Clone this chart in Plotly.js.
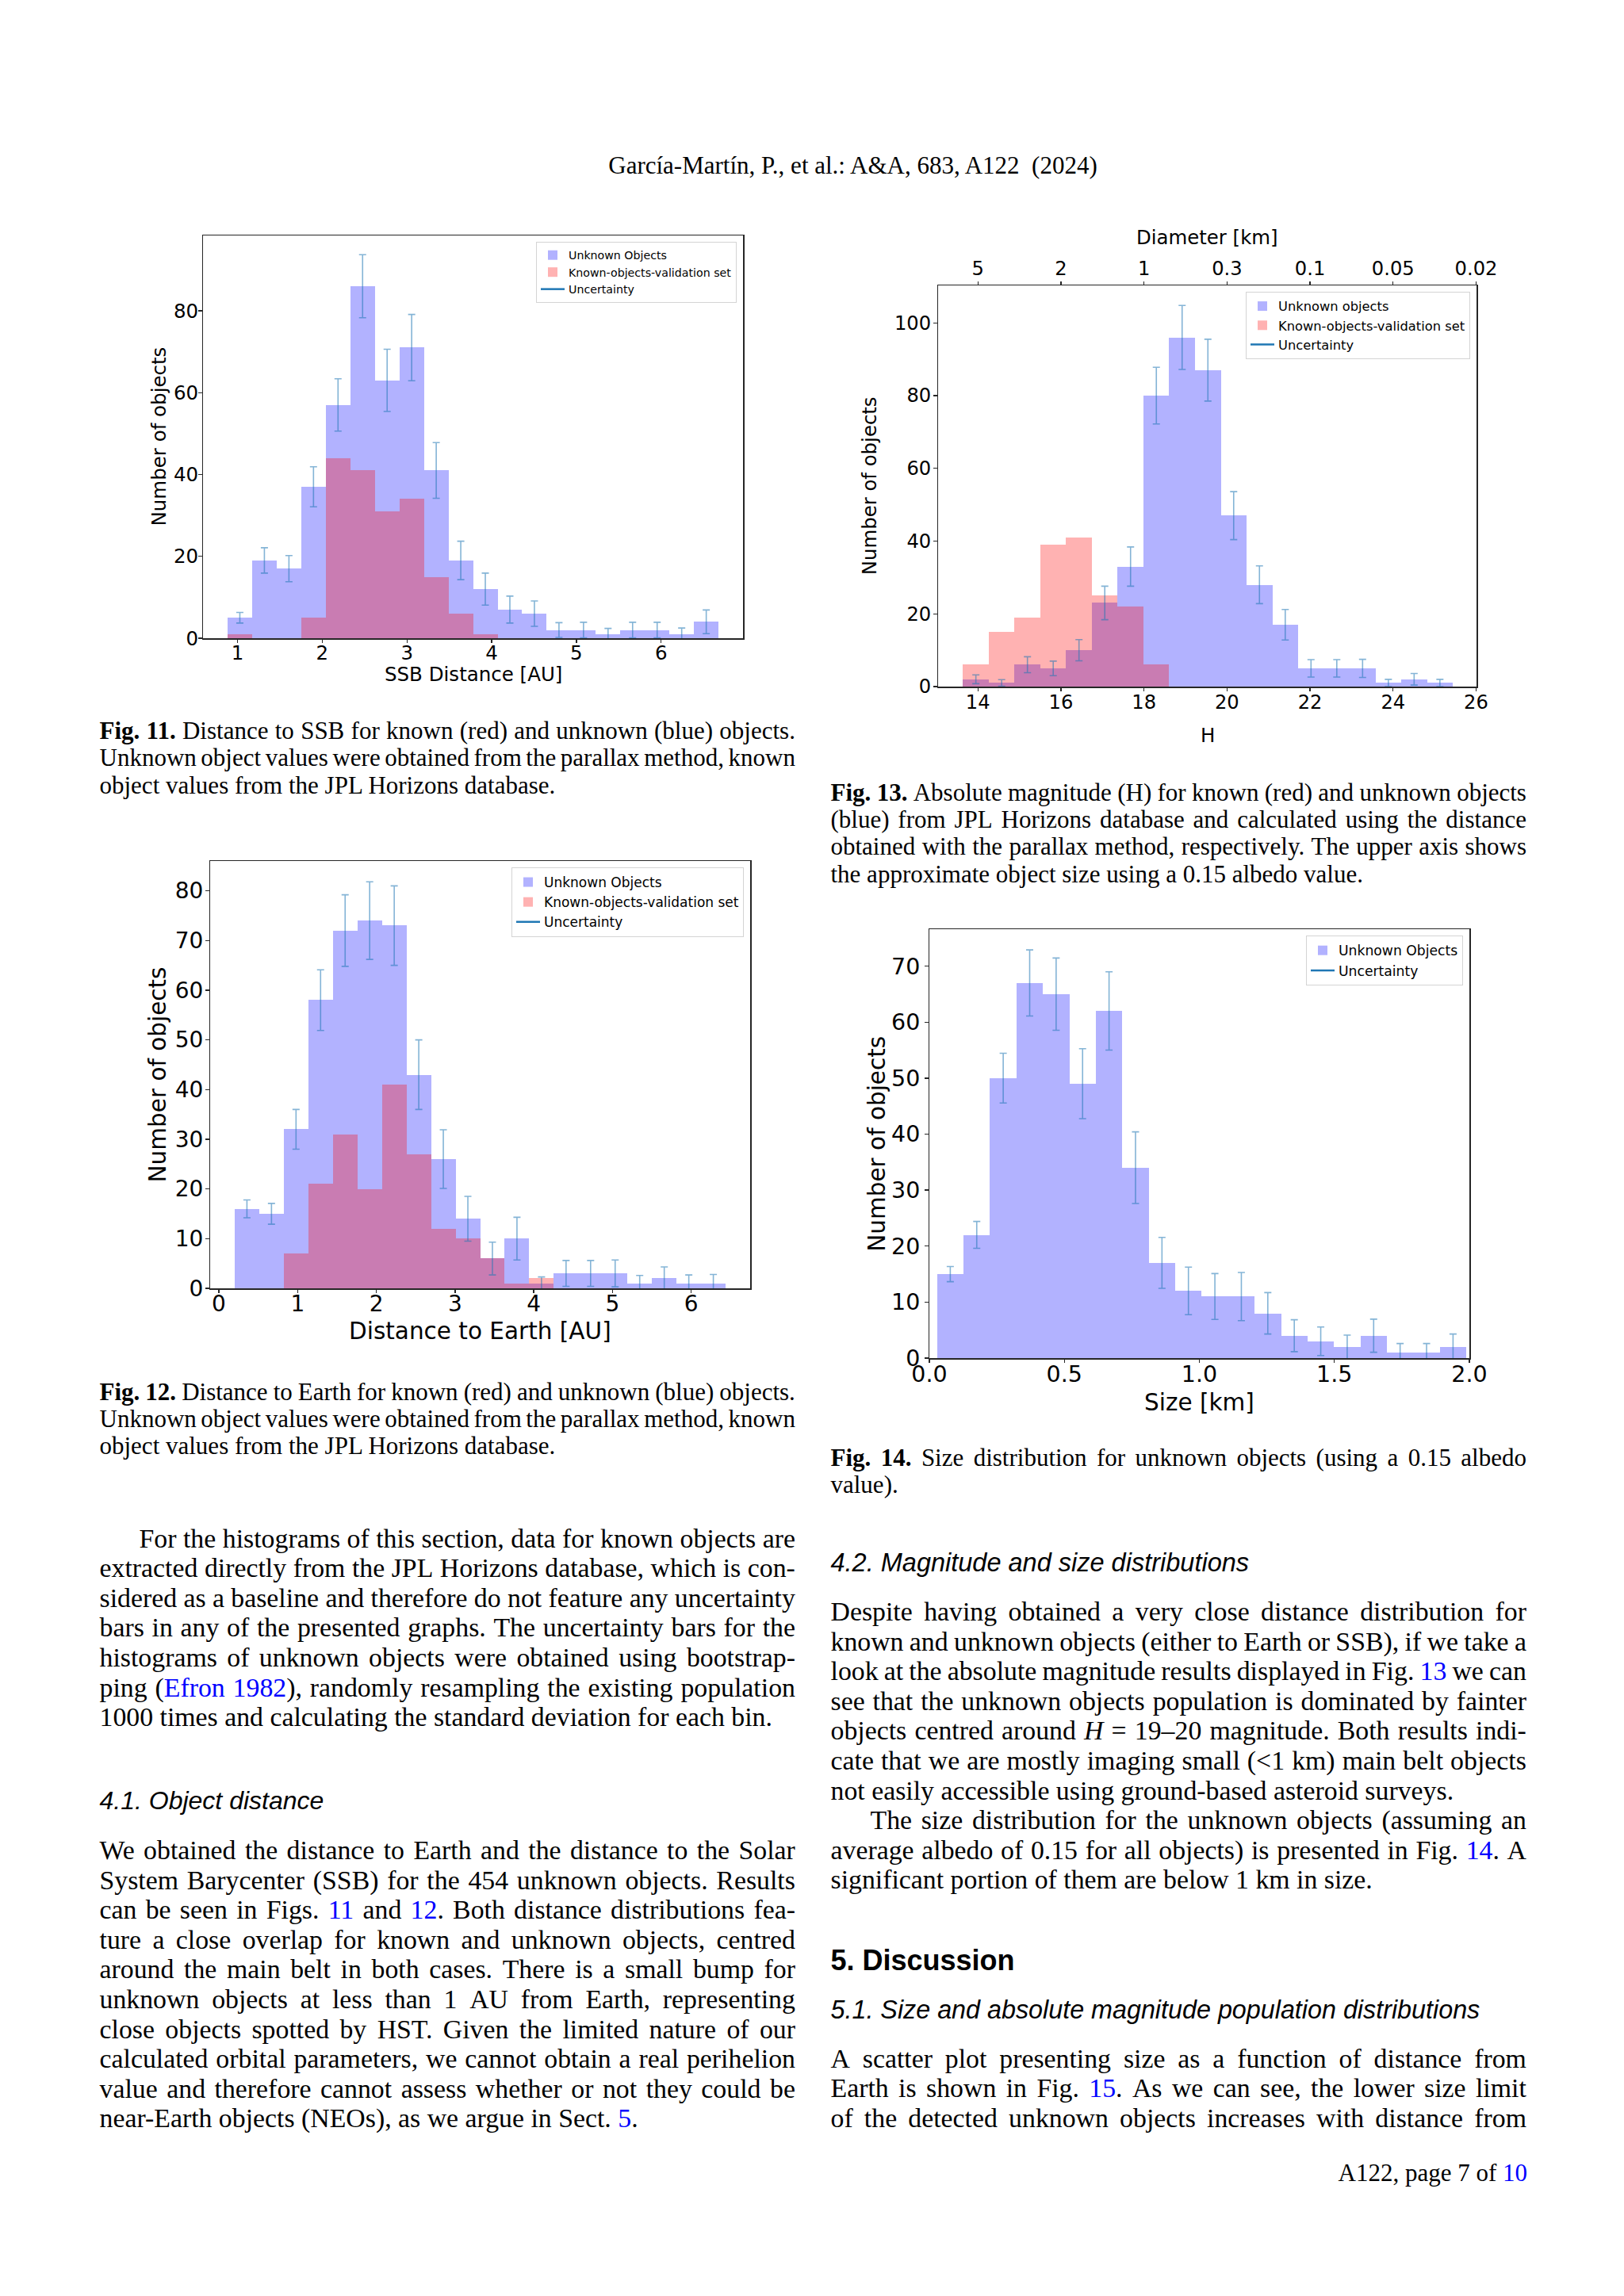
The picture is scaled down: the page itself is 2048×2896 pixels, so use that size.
<!DOCTYPE html>
<html><head><meta charset="utf-8">
<script src="https://cdn.plot.ly/plotly-3.0.1.min.js"></script>
<style>
body{margin:0;background:#fff;}
#page{position:relative;width:2048px;height:2896px;background:#fff;overflow:hidden;font-family:"Liberation Serif","Times New Roman",serif;color:#000;}
.ln{position:absolute;white-space:nowrap;box-sizing:border-box;}
a{color:#0000ff;text-decoration:none;}
.chart{position:absolute;}
</style></head>
<body><div id="page"></div>
<script>
// ---------------- DATA ----------------
// Fig. 11 : distance to SSB (20 bins)
const ssbBinStart = 0.883, ssbBinWidth = 0.2897;
const ssbUnknown = [5,19,17,37,57,86,63,71,41,19,12,7,6,2,2,1,2,2,1,4];
const ssbKnown   = [1,0,0,5,44,41,31,34,15,6,1,0,0,0,0,0,0,0,0,0];
const ssbErr     = [1.3,3.1,3.2,4.9,6.4,7.7,7.6,8.1,6.8,4.7,3.9,3.3,3.1,1.8,1.9,1.4,1.9,1.9,1.5,2.9];
// Fig. 12 : distance to Earth (20 bins)
const earthBinStart = 0.2005, earthBinWidth = 0.3118;
const earthUnknown = [16,15,32,58,72,74,73,43,26,14,6,10,1,3,3,3,1,2,1,1];
const earthKnown   = [0,0,7,21,31,20,41,27,12,10,6,1,2,0,0,0,0,0,0,0];
const earthErr     = [1.8,2.1,4.0,6.1,7.2,7.8,8.0,7.0,5.9,4.5,3.3,4.3,1.3,2.6,2.6,2.7,1.6,2.3,1.7,1.8];
// Fig. 13 : absolute magnitude H (19 bins)
const hBinStart = 13.64, hBinWidth = 0.621;
const hUnknown = [2,1,6,5,10,23,33,80,96,87,47,28,17,5,5,5,1,2,1];
const hKnown   = [6,15,19,39,41,25,22,6,0,0,0,0,0,0,0,0,0,0,0];
const hErr     = [1.2,0.9,2.2,2.0,2.9,4.6,5.4,7.8,8.8,8.5,6.6,5.2,4.2,2.4,2.4,2.5,1.0,1.6,1.0];
const diamTickH = [14,16,18,20,22,24,26];
const diamTickLabels = ['5','2','1','0.3','0.1','0.05','0.02'];
// Fig. 14 : size (20 bins)
const sizeBinStart = 0.0285, sizeBinWidth = 0.098;
const sizeUnknown = [15,22,50,67,65,49,62,34,17,12,11,11,8,4,3,2,4,1,1,2];
const sizeErr     = [1.35,2.4,4.45,5.9,6.45,6.25,7.0,6.4,4.55,4.25,4.1,4.3,3.7,2.85,2.55,2.1,2.95,1.6,1.6,2.3];

// ---------------- TEXT ----------------
const headerText = 'García-Martín, P., et al.: A&amp;A, 683, A122&nbsp; (2024)';
const cap11 = ['=<b>Fig.</b> <b>11.</b> Distance to SSB for known (red) and unknown (blue) objects.',
  '=Unknown object values were obtained from the parallax method, known',
  '-object values from the JPL Horizons database.'];
const cap12 = ['=<b>Fig.</b> <b>12.</b> Distance to Earth for known (red) and unknown (blue) objects.',
  '=Unknown object values were obtained from the parallax method, known',
  '-object values from the JPL Horizons database.'];
const cap13 = ['=<b>Fig.</b> <b>13.</b> Absolute magnitude (H) for known (red) and unknown objects',
  '=(blue) from JPL Horizons database and calculated using the distance',
  '=obtained with the parallax method, respectively. The upper axis shows',
  '-the approximate object size using a 0.15 albedo value.'];
const cap14 = ['=<b>Fig.</b> <b>14.</b> Size distribution for unknown objects (using a 0.15 albedo',
  '-value).'];
const paraLeft1 = ['>For the histograms of this section, data for known objects are',
  '=extracted directly from the JPL Horizons database, which is con-',
  '=sidered as a baseline and therefore do not feature any uncertainty',
  '=bars in any of the presented graphs. The uncertainty bars for the',
  '=histograms of unknown objects were obtained using bootstrap-',
  '=ping (<a>Efron</a> <a>1982</a>), randomly resampling the existing population',
  '-1000 times and calculating the standard deviation for each bin.'];
const paraLeft2 = ['=We obtained the distance to Earth and the distance to the Solar',
  '=System Barycenter (SSB) for the 454 unknown objects. Results',
  '=can be seen in Figs. <a>11</a> and <a>12</a>. Both distance distributions fea-',
  '=ture a close overlap for known and unknown objects, centred',
  '=around the main belt in both cases. There is a small bump for',
  '=unknown objects at less than 1 AU from Earth, representing',
  '=close objects spotted by HST. Given the limited nature of our',
  '=calculated orbital parameters, we cannot obtain a real perihelion',
  '=value and therefore cannot assess whether or not they could be',
  '-near-Earth objects (NEOs), as we argue in Sect. <a>5</a>.'];
const paraRight1 = ['=Despite having obtained a very close distance distribution for',
  '=known and unknown objects (either to Earth or SSB), if we take a',
  '=look at the absolute magnitude results displayed in Fig. <a>13</a> we can',
  '=see that the unknown objects population is dominated by fainter',
  '=objects centred around <i>H</i> = 19–20 magnitude. Both results indi-',
  '=cate that we are mostly imaging small (&lt;1 km) main belt objects',
  '-not easily accessible using ground-based asteroid surveys.',
  '>The size distribution for the unknown objects (assuming an',
  '=average albedo of 0.15 for all objects) is presented in Fig. <a>14</a>. A',
  '-significant portion of them are below 1 km in size.'];
const paraRight2 = ['=A scatter plot presenting size as a function of distance from',
  '=Earth is shown in Fig. <a>15</a>. As we can see, the lower size limit',
  '=of the detected unknown objects increases with distance from'];

const page = document.getElementById('page');
const SANS = '"Liberation Sans",Arial,sans-serif';

function single(html, left, top, size, extra){
  const d = document.createElement('div');
  d.className = 'ln';
  d.style.left = left+'px'; d.style.top = top+'px'; d.style.fontSize = size+'px';
  d.style.lineHeight = '1.2';
  if (extra) Object.assign(d.style, extra);
  d.innerHTML = html;
  page.appendChild(d);
  return d;
}
function block(lines, x, top, w, lh, size){
  lines.forEach((s,i)=>{
    const kind = s[0], t = s.slice(1);
    const d = document.createElement('div');
    d.className = 'ln';
    d.style.left = x+'px'; d.style.top = (top+i*lh)+'px'; d.style.width = w+'px';
    d.style.height = lh+'px'; d.style.lineHeight = lh+'px'; d.style.fontSize = size+'px';
    d.style.paddingLeft = (kind==='>' ? 50 : 0)+'px';
    if (kind==='-') { d.innerHTML = t; }
    else {
      d.style.display = 'flex'; d.style.justifyContent = 'space-between'; d.style.columnGap = '0.12em';
      t.split(' ').forEach(wd=>{ const sp=document.createElement('span'); sp.innerHTML=wd; d.appendChild(sp); });
    }
    page.appendChild(d);
  });
}

// header + footer
single(headerText, 0, 190, 31, {width:'2151px', textAlign:'center'});
single('A122, page 7 of <a>10</a>', 0, 2722, 31, {width:'1926px', textAlign:'right'});
// captions
const LX = 125.5, LW = 877.5, RX = 1047.5, RW = 877.5;
block(cap11, LX, 905, LW, 34.3, 31);
block(cap12, LX, 1738.5, LW, 34.3, 31);
block(cap13, RX, 982.7, RW, 34.3, 31);
block(cap14, RX, 1821.7, RW, 34.6, 31);
// body
block(paraLeft1, LX, 1921.5, LW, 37.6, 33.8);
single('4.1. Object distance', LX, 2252, 32, {fontFamily:SANS, fontStyle:'italic'});
block(paraLeft2, LX, 2315, LW, 37.6, 33.8);
single('4.2. Magnitude and size distributions', RX, 1952.3, 32.5, {fontFamily:SANS, fontStyle:'italic'});
block(paraRight1, RX, 2014, RW, 37.6, 33.8);
single('5. Discussion', RX, 2451, 36, {fontFamily:SANS, fontWeight:'bold'});
single('5.1. Size and absolute magnitude population distributions', RX, 2516, 32.3, {fontFamily:SANS, fontStyle:'italic'});
block(paraRight2, RX, 2577.6, RW, 37.6, 33.8);

// ---------------- CHARTS ----------------
const BLUE = 'rgba(0,0,255,0.3)', RED = 'rgba(255,0,0,0.3)', ERR = 'rgba(31,119,180,0.55)';
function barTrace(start, width, y, color, name){
  return {type:'bar', x0:start+width/2, dx:width, width:width, y:y, name:name,
    marker:{color:color, line:{width:0}}, hoverinfo:'skip'};
}
function errTrace(start, width, y, err){
  return {type:'scatter', mode:'markers', x0:start+width/2, dx:width, y:y, showlegend:false,
    marker:{size:1, color:'rgba(0,0,0,0)'}, hoverinfo:'skip',
    error_y:{type:'data', array:err, visible:true, color:ERR, thickness:1.6, width:4.5}};
}
function legendLine(xaxis){
  const t = {type:'scatter', mode:'lines', x:[null], y:[null], name:'Uncertainty',
    line:{color:'#1f77b4', width:2.5}, hoverinfo:'skip'};
  if (xaxis) t.xaxis = xaxis;
  return t;
}
function axis(range, dtick, fs, lblOff, extra){
  return Object.assign({range:range, dtick:dtick, showline:true, linecolor:'#262626', linewidth:1.5, mirror:true,
    ticks:'outside', ticklen:4.5, tickwidth:1.4, tickcolor:'#262626', showgrid:false, zeroline:false,
    tickfont:{size:fs, color:'#000'}, automargin:false, ticklabelstandoff:lblOff}, extra||{});
}
function yTitle(text, fs, dx){
  return {text:text, xref:'paper', yref:'paper', x:0, y:0.5, xanchor:'center', yanchor:'middle',
    xshift:-dx, textangle:-90, showarrow:false, font:{size:fs, color:'#000'}};
}
function xTitle(text, fs, dy){
  return {text:text, xref:'paper', yref:'paper', x:0.5, y:0, xanchor:'center', yanchor:'middle',
    yshift:-dy, showarrow:false, font:{size:fs, color:'#000'}};
}
function makeChart(id, box, m, data, layout, legendFs){
  const d = document.createElement('div');
  d.className = 'chart'; d.id = id;
  const w = box.R-box.L+m.l+m.r, h = box.B-box.T+m.t+m.b;
  d.style.left = (box.L-m.l)+'px'; d.style.top = (box.T-m.t)+'px';
  d.style.width = w+'px'; d.style.height = h+'px';
  page.appendChild(d);
  const pw = box.R-box.L, ph = box.B-box.T;
  const base = {width:w, height:h, margin:m, paper_bgcolor:'rgba(0,0,0,0)', plot_bgcolor:'#fff',
    barmode:'overlay', bargap:0, font:{family:'DejaVu Sans', color:'#000'}, showlegend:true,
    legend:{x:1-8/pw, y:1-8/ph, xanchor:'right', yanchor:'top', bgcolor:'rgba(255,255,255,0.85)',
      bordercolor:'#d4d4d4', borderwidth:1, font:{size:legendFs}, traceorder:'normal', itemwidth:30}};
  Plotly.newPlot(d, data, Object.assign(base, layout), {staticPlot:true});
}

// Fig. 11
makeChart('fig11', {L:256,T:297,R:937,B:805}, {l:110,r:30,t:20,b:90}, [
  barTrace(ssbBinStart, ssbBinWidth, ssbUnknown, BLUE, 'Unknown Objects'),
  barTrace(ssbBinStart, ssbBinWidth, ssbKnown, RED, 'Known-objects-validation set'),
  errTrace(ssbBinStart, ssbBinWidth, ssbUnknown, ssbErr),
  legendLine()
], {xaxis:axis([0.593,6.966],1,24.5,-8), yaxis:axis([0,98.4],20,24.5,-5),
    annotations:[yTitle('Number of objects',24.5,56.5), xTitle('SSB Distance [AU]',24.5,45)]}, 14.2);

// Fig. 12
makeChart('fig12', {L:265,T:1086,R:946,B:1625}, {l:110,r:30,t:20,b:100}, [
  barTrace(earthBinStart, earthBinWidth, earthUnknown, BLUE, 'Unknown Objects'),
  barTrace(earthBinStart, earthBinWidth, earthKnown, RED, 'Known-objects-validation set'),
  errTrace(earthBinStart, earthBinWidth, earthUnknown, earthErr),
  legendLine()
], {xaxis:axis([-0.111,6.748],1,28,-11), yaxis:axis([0,86.0],10,28,-3),
    annotations:[yTitle('Number of objects',29.5,67), xTitle('Distance to Earth [AU]',29.5,54)]}, 17);

// Fig. 13
makeChart('fig13', {L:1183,T:360,R:1862,B:866}, {l:120,r:40,t:110,b:110}, [
  barTrace(hBinStart, hBinWidth, hUnknown, BLUE, 'Unknown objects'),
  barTrace(hBinStart, hBinWidth, hKnown, RED, 'Known-objects-validation set'),
  errTrace(hBinStart, hBinWidth, hUnknown, hErr),
  legendLine('x2')
], {xaxis:axis([13.04,26.01],2,24.2,-7),
    xaxis2:axis([13.04,26.01],null,24.2,-2,{overlaying:'x', side:'top', anchor:'y', showline:false, mirror:false, tickmode:'array', tickvals:diamTickH, ticktext:diamTickLabels}),
    yaxis:axis([0,110.3],20,24.2,-2),
    annotations:[yTitle('Number of objects',24.4,86.7), xTitle('H',24.4,61.7),
      {text:'Diameter [km]', xref:'paper', yref:'paper', x:0.5, y:1, xanchor:'center', yanchor:'middle',
       yshift:60.6, showarrow:false, font:{size:24.4, color:'#000'}}]}, 16.3);

// Fig. 14
makeChart('fig14', {L:1172,T:1172,R:1853,B:1713}, {l:110,r:40,t:20,b:100}, [
  barTrace(sizeBinStart, sizeBinWidth, sizeUnknown, BLUE, 'Unknown Objects'),
  errTrace(sizeBinStart, sizeBinWidth, sizeUnknown, sizeErr),
  legendLine()
], {xaxis:axis([0,2],0.5,28.5,-10,{tickformat:'.1f'}), yaxis:axis([0,76.6],10,28.5,0),
    annotations:[yTitle('Number of objects',29.5,66.7), xTitle('Size [km]',29.5,55.7)]}, 17.2);
</script>
</body></html>
